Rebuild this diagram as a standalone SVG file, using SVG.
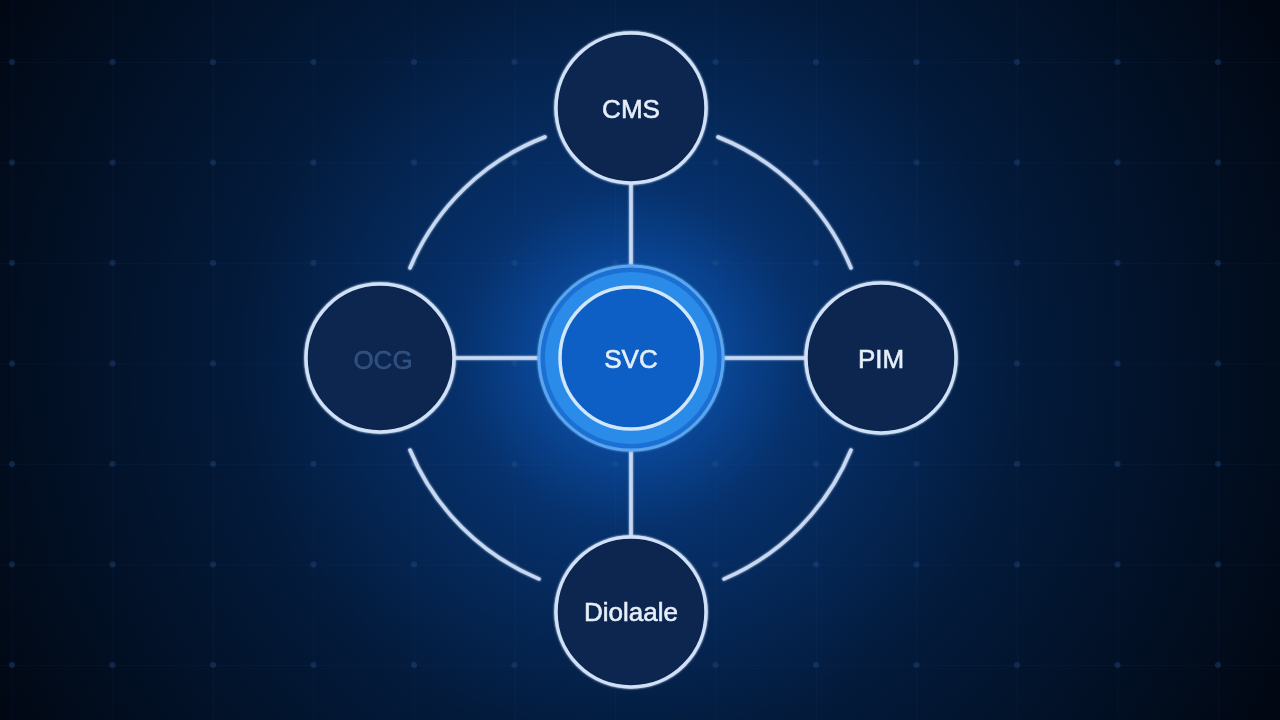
<svg xmlns="http://www.w3.org/2000/svg" width="1280" height="720" viewBox="0 0 1280 720">
<defs>
<radialGradient id="bg" cx="631" cy="358" r="720" gradientUnits="userSpaceOnUse">
<stop offset="0" stop-color="#0a4a9e"/>
<stop offset="0.25" stop-color="#06306a"/>
<stop offset="0.55" stop-color="#031a3a"/>
<stop offset="1" stop-color="#010814"/>
</radialGradient>
<radialGradient id="glow" cx="631" cy="358" r="170" gradientUnits="userSpaceOnUse">
<stop offset="0" stop-color="#1a78e0" stop-opacity="0.75"/>
<stop offset="0.55" stop-color="#0f5cc0" stop-opacity="0.3"/>
<stop offset="1" stop-color="#0a4fa8" stop-opacity="0"/>
</radialGradient>
<pattern id="grid" x="12" y="62" width="100.5" height="100.5" patternUnits="userSpaceOnUse">
<circle cx="0" cy="0" r="3" fill="#28548f" opacity="0.35"/>
<circle cx="100.5" cy="0" r="3" fill="#28548f" opacity="0.35"/>
<circle cx="0" cy="100.5" r="3" fill="#28548f" opacity="0.35"/>
<circle cx="100.5" cy="100.5" r="3" fill="#28548f" opacity="0.35"/>
<path d="M0 0V100.5M0 0H100.5" stroke="#2a5a9a" stroke-width="1" opacity="0.12"/>
</pattern>
<filter id="soft" x="-20%" y="-20%" width="140%" height="140%">
<feGaussianBlur stdDeviation="1.2" result="b"/>
<feMerge><feMergeNode in="b"/><feMergeNode in="SourceGraphic"/></feMerge>
</filter>
</defs>
<style>
.line{stroke:#c6d8f2;stroke-width:3.5;fill:none;stroke-linecap:round}
.node{fill:#0a2550;stroke:#cfe0f7;stroke-width:3.5}
.lbl{font-family:"Liberation Sans",Arial,sans-serif;font-size:26px;fill:#e6eef9;text-anchor:middle;dominant-baseline:central;stroke:#e6eef9;stroke-width:0.6}
</style>
<rect width="1280" height="720" fill="url(#bg)"/>
<rect width="1280" height="720" fill="url(#grid)"/>
<circle cx="631" cy="358" r="170" fill="url(#glow)"/>
<g id="connectors" filter="url(#soft)">
<path class="line" d="M410 268 A240 240 0 0 1 545 137"/>
<path class="line" d="M718 137 A240 240 0 0 1 851 268"/>
<path class="line" d="M851 450 A240 240 0 0 1 724 579"/>
<path class="line" d="M539 579 A240 240 0 0 1 410 450"/>
<line class="line" x1="631" y1="184" x2="631" y2="268"/>
<line class="line" x1="631" y1="448" x2="631" y2="537"/>
<line class="line" x1="456" y1="358" x2="541" y2="358"/>
<line class="line" x1="721" y1="358" x2="806" y2="358"/>
</g>
<g id="node-svc" filter="url(#soft)">
<circle cx="631" cy="358" r="92" fill="#1a6fd4" stroke="#5aa6ee" stroke-width="3"/>
<circle cx="631" cy="358" r="86" fill="#2a8ce8" stroke="none"/>
<circle cx="631" cy="358" r="71" fill="#0e5ec6" stroke="#cfe6fb" stroke-width="3.5"/>
<text class="lbl" x="631" y="359" font-size="28">SVC</text>
</g>
<g id="node-cms" filter="url(#soft)">
<circle class="node" cx="631" cy="108" r="75"/>
<text class="lbl" x="631" y="109">CMS</text>
</g>
<g id="node-pim" filter="url(#soft)">
<circle class="node" cx="881" cy="358" r="75"/>
<text class="lbl" x="881" y="359">PIM</text>
</g>
<g id="node-left" filter="url(#soft)">
<circle class="node" cx="380" cy="358" r="74"/>
<text class="lbl" x="383" y="360" style="fill:#3f5f90;stroke:#3f5f90;stroke-width:0.4" fill-opacity="0.7">OCG</text>
</g>
<g id="node-bottom" filter="url(#soft)">
<circle class="node" cx="631" cy="612" r="75"/>
<text class="lbl" x="631" y="612" font-size="25">Diolaale</text>
</g>
</svg>
